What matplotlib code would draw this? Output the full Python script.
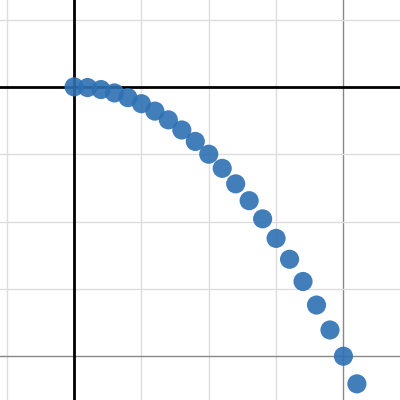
import matplotlib
matplotlib.use("Agg")
import matplotlib.pyplot as plt

xs = [0, 0.2, 0.4, 0.6, 0.8, 1.0, 1.2, 1.4, 1.6, 1.8, 2.0, 2.2, 2.4, 2.6, 2.8, 3.0, 3.2, 3.4, 3.6, 3.8, 4.0, 4.2]
ys = [0, -0.01, -0.04, -0.09, -0.16, -0.25, -0.36, -0.49, -0.64, -0.81, -1.0, -1.21, -1.44, -1.69, -1.96, -2.25, -2.56, -2.89, -3.24, -3.61, -4.0, -4.41]

fig = plt.figure(figsize=(4, 4), dpi=100)
ax = fig.add_axes([0, 0, 1, 1])
ax.set_xlim(-1.1, 4.84)
ax.set_ylim(-4.65, 1.29)
for v in range(-1, 5):
    c = '#888888' if v == 4 else '#dddddd'
    ax.axvline(v, color=c, lw=1, zorder=0)
for v in range(-4, 2):
    c = '#888888' if v == -4 else '#dddddd'
    ax.axhline(v, color=c, lw=1, zorder=0)
ax.axvline(0, color='black', lw=2, zorder=1)
ax.axhline(0, color='black', lw=2, zorder=1)
ax.scatter(xs, ys, s=190, color='#2d70b3', alpha=0.9, edgecolors='none', zorder=3)
ax.set_xticks([]); ax.set_yticks([])
for s in ax.spines.values():
    s.set_visible(False)
fig.savefig('out.png', dpi=100)
